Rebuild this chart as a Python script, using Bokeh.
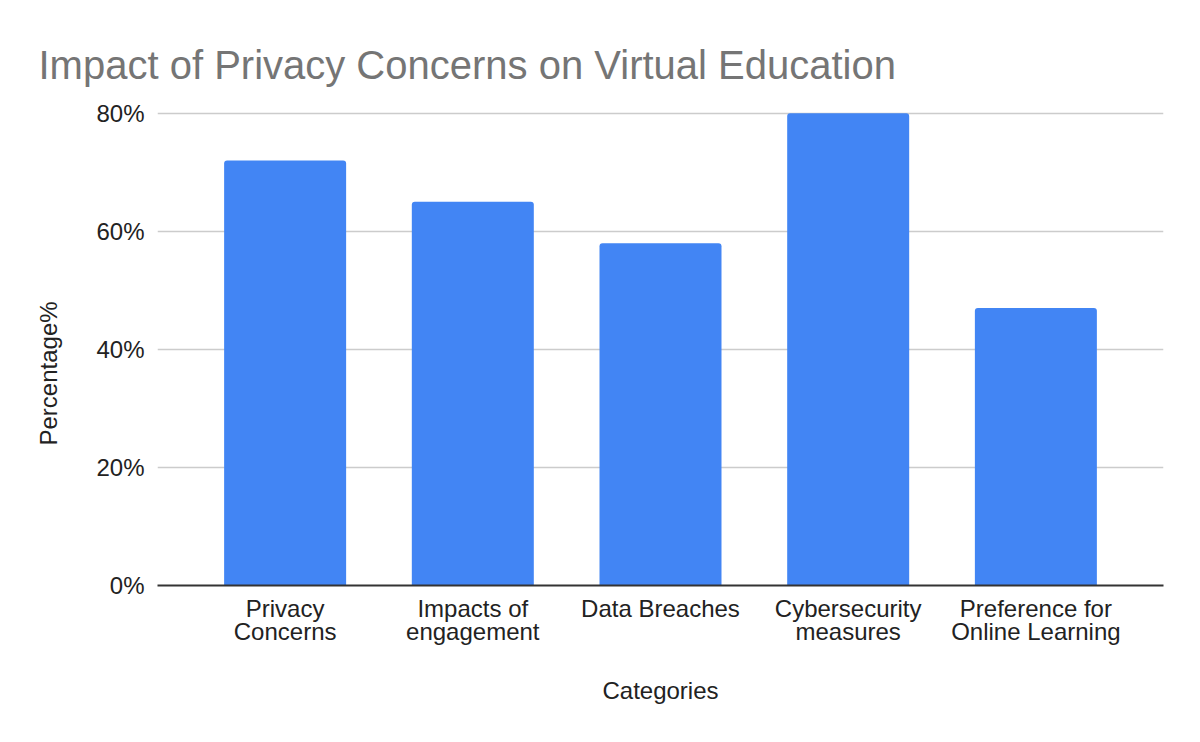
from bokeh.plotting import figure
from bokeh.models import Range1d, FixedTicker, PrintfTickFormatter, ColumnDataSource, Title
from bokeh.embed import file_html
from bokeh.resources import INLINE

categories = ["Privacy\nConcerns", "Impacts of\nengagement", "Data Breaches",
              "Cybersecurity\nmeasures", "Preference for\nOnline Learning"]
values = [72, 65, 58, 80, 47]
y_ticks = [0, 20, 40, 60, 80]

xs = list(range(len(categories)))
src = ColumnDataSource(dict(x=xs, top=values))

FONT = "Liberation Sans"

p = figure(width=1184, height=726, output_backend="svg", toolbar_location=None,
           x_range=Range1d(-0.68, 4.68), y_range=Range1d(0, 80.3),
           min_border_left=157, min_border_right=21, min_border_top=111,
           min_border_bottom=141)
p.outline_line_color = None

p.vbar(x="x", top="top", width=0.65, source=src, fill_color="#4285F4", line_color=None,
       border_radius=(3, 3, 0, 0))

# title
p.title.text = "Impact of Privacy Concerns on Virtual Education"
p.title.text_font = FONT
p.title.text_font_size = "40px"
p.title.text_font_style = "normal"
p.title.text_color = "#757575"
p.title.offset = -119
p.title.standoff = 50

# x axis
p.xaxis.ticker = FixedTicker(ticks=xs)
p.xaxis.major_label_overrides = {i: c for i, c in zip(xs, categories)}
p.xaxis.major_tick_line_color = None
p.xaxis.major_tick_out = 0
p.xaxis.major_tick_in = 0
p.xaxis.minor_tick_line_color = None
p.xaxis.axis_line_color = "#333333"
p.xaxis.axis_line_width = 2
p.xaxis.major_label_text_font = FONT
p.xaxis.major_label_text_font_size = "24px"
p.xaxis.major_label_text_line_height = 0.86
p.xaxis.major_label_text_color = "#222222"
p.xaxis.major_label_standoff = 9
p.xaxis.axis_label = "Categories"
p.xaxis.axis_label_text_font = FONT
p.xaxis.axis_label_text_font_size = "24px"
p.xaxis.axis_label_text_font_style = "normal"
p.xaxis.axis_label_text_color = "#222222"
p.xaxis.axis_label_standoff = 29

# y axis
p.yaxis.ticker = FixedTicker(ticks=y_ticks)
p.yaxis.formatter = PrintfTickFormatter(format="%d%%")
p.yaxis.axis_line_color = None
p.yaxis.major_tick_line_color = None
p.yaxis.major_tick_out = 0
p.yaxis.major_tick_in = 0
p.yaxis.minor_tick_line_color = None
p.yaxis.major_label_text_font = FONT
p.yaxis.major_label_text_font_size = "24px"
p.yaxis.major_label_text_color = "#222222"
p.yaxis.major_label_standoff = 13

# y axis title (slightly below the frame centre, as in the reference)
ytitle = Title(text="Percentage%", align="left", offset=140, standoff=63,
               text_font=FONT, text_font_size="24px", text_font_style="normal",
               text_color="#222222")
p.add_layout(ytitle, "left")

p.xgrid.grid_line_color = None
p.ygrid.grid_line_color = "#cccccc"
p.ygrid.grid_line_width = 1.5

open("out.html", "w").write(file_html(p, INLINE))
